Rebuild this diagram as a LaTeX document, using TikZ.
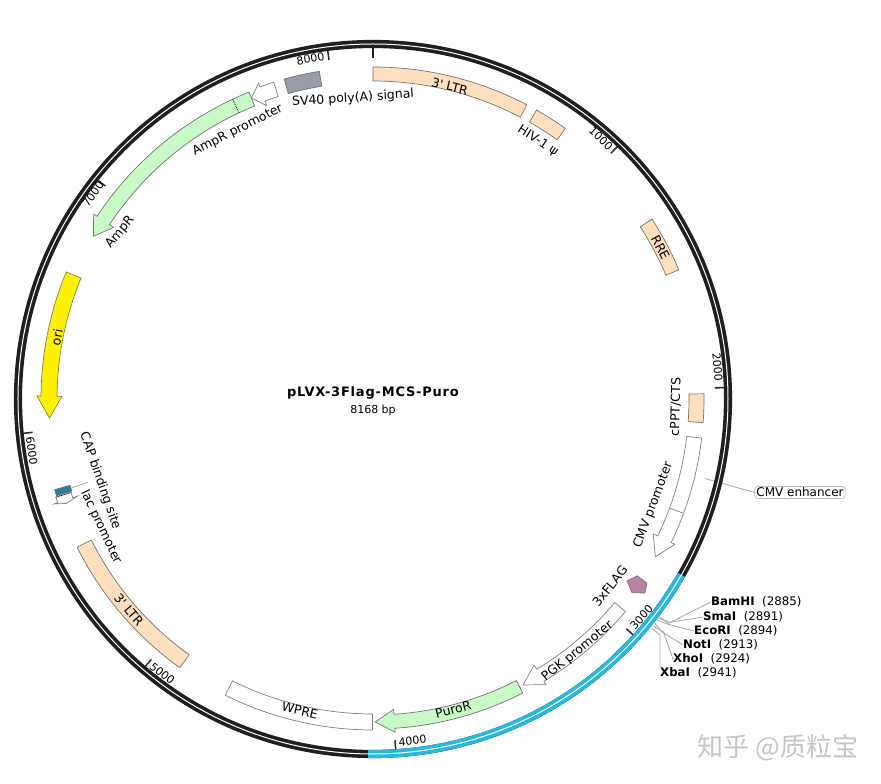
\documentclass[tikz,border=0pt]{standalone}
\usepackage{fontspec}
\setmainfont{DejaVu Sans}[Ligatures=TeXOff]
\newfontfamily\cjk{Noto Sans CJK SC}
\newfontfamily\titlefont{DejaVu Sans Bold}[LetterSpace=6]
\usetikzlibrary{positioning, calc}

\definecolor{ltrpeach}{HTML}{FFE0BE}
\definecolor{ampgreen}{HTML}{C8FAC8}
\definecolor{svgray}{HTML}{9A9CA8}
\definecolor{flagmauve}{HTML}{B983A8}
\definecolor{capteal}{HTML}{2F7D9C}
\definecolor{mcscyan}{HTML}{29B8DC}

% band along the ring: style, start, end, outer radius, inner radius
\newcommand{\featband}[5]{
	\draw[#1] ({90-#2}:#4) arc[start angle={90-#2}, end angle={90-#3}, radius=#4] -- ({90-#3}:#5) arc[start angle={90-#3}, end angle={90-#2}, radius=#5] -- cycle;
}
% band with a head: style, start, head base, tip, outer radius, inner radius
\newcommand{\featarrow}[6]{
	\draw[#1] ({90-#2}:#5) arc[start angle={90-#2}, end angle={90-#3}, radius=#5] -- ({90-#3}:#5+4) -- ({90-#4}:#5/2+#6/2) -- ({90-#3}:#6-5) -- ({90-#3}:#6) arc[start angle={90-#3}, end angle={90-#2}, radius=#6] -- cycle;
}

\begin{document}
\begin{tikzpicture}[x=1pt, y=1pt]
	% Define styles
	\tikzset{
		feat/.style={draw=black!55, line width=0.7pt, fill=#1},
		plainfeat/.style={draw=black!50, line width=0.7pt, fill=white},
		lbl/.style={inner sep=0pt, font=\fontsize{12.5}{14}\selectfont},
		ticklbl/.style={inner sep=0pt, font=\fontsize{11}{13}\selectfont},
		enzlbl/.style={inner sep=0pt, anchor=west, font=\fontsize{11.8}{13}\selectfont},
		leader/.style={draw=black!35, line width=0.8pt},
		tickmark/.style={draw=black!85, line width=1.5pt}
	}
	\useasboundingbox (-373,-385) rectangle (508,399);

	% Leader behind the ring
	\coordinate (enhIn) at (332,-79.5);
	\node[lbl, draw=black!40, rounded corners=3pt, fill=white, inner sep=1.5pt, font=\fontsize{12}{14}\selectfont] (enh) at (427,-93.5) {CMV enhancer};
	\draw[leader] (enhIn) -- (enh.west);

	% Ring
	\draw[black!88, line width=8.2pt] (0,0) circle[radius=355];
	\draw[white, line width=1pt] (0,0) circle[radius=355];
	\draw[mcscyan, line width=8.2pt] ({90-119.7}:355) arc[start angle={90-119.7}, end angle={90-180.8}, radius=355];
	\draw[white, line width=1pt] ({90-119.7}:355) arc[start angle={90-119.7}, end angle={90-180.8}, radius=355];

	% Scale
	\draw[black!88, line width=2.6pt] (90:351) -- (90:341);
	\draw[tickmark] ({90-44.07}:351) -- ({90-44.07}:342);
	\draw[tickmark] ({90-88.14}:351) -- ({90-88.14}:342);
	\draw[tickmark] ({90-132.2}:351) -- ({90-132.2}:342);
	\draw[tickmark] ({90-176.3}:351) -- ({90-176.3}:342);
	\draw[tickmark] ({90-220.4}:351) -- ({90-220.4}:342);
	\draw[tickmark] ({90-264.4}:351) -- ({90-264.4}:342);
	\draw[tickmark] ({90-308.5}:351) -- ({90-308.5}:342);
	\draw[tickmark] ({90-352.6}:351) -- ({90-352.6}:342);
	\node[ticklbl, rotate=-44] (t1) at ({90-41.2}:346) {1000};
	\node[ticklbl, rotate=-85] (t2) at ({90-84.7}:346) {2000};
	\node[ticklbl, rotate=48] (t3) at ({90-129.1}:346) {3000};
	\node[ticklbl, rotate=6] (t4) at ({90-173.4}:344) {4000};
	\node[ticklbl, rotate=-38] (t5) at ({90-217.5}:346) {5000};
	\node[ticklbl, rotate=-82] (t6) at ({90-261.4}:345) {6000};
	\node[ticklbl, rotate=54] (t7) at ({90-306.2}:347) {7000};
	\node[ticklbl, rotate=10] (t8) at ({90-349.6}:346) {8000};

	% Features
	\featband{feat=ltrpeach}{0}{27.6}{332}{318}
	\featband{feat=ltrpeach}{29.5}{35.4}{332}{318}
	\featband{feat=ltrpeach}{57.2}{67.1}{332}{318}
	\featband{feat=ltrpeach}{89.1}{94.1}{331}{316}
	\featarrow{plainfeat}{96.8}{115.7}{119.2}{331}{316}
	\draw[black!50, line width=0.7pt] ({90-110.2}:331) -- ({90-110.2}:316);
	\draw[feat=flagmauve] ({90-123.8}:318) -- ({90-123.9}:330) -- ({90-125.5}:334) -- ({90-126.8}:323.6) -- ({90-125.6}:312.5) -- cycle;
	\featarrow{plainfeat}{130.1}{148.8}{152.3}{330}{316}
	\featarrow{feat=ampgreen}{153}{176.2}{179.6}{330}{316}
	\featband{plainfeat}{180.1}{206.5}{331}{315}
	\featband{feat=ltrpeach}{215.7}{243.4}{331}{315}
	\featarrow{plainfeat}{252.8}{251.8}{251.2}{332}{316}
	\draw[black, densely dotted, line width=0.8pt] ({90-252.8}:332) -- ({90-252.8}:316);
	\featband{feat=capteal}{253}{254.1}{331}{315}
	\featarrow{draw=black!55!yellow, line width=0.7pt, fill=yellow}{292.5}{270.5}{266.6}{332}{316}
	\featarrow{feat=ampgreen}{338}{303.5}{300.2}{331}{316}
	\draw[black, densely dotted, line width=0.8pt] ({90-334.9}:331) -- ({90-334.9}:316);
	\featarrow{plainfeat}{342.6}{340.1}{338}{332}{317}
	\featband{feat=svgray}{344.5}{350.7}{332}{317}

	% Feature labels
	\node[lbl, rotate=-13.8] (ltrR) at ({90-13.8}:322) {3' LTR};
	\node[lbl, rotate=-32.6] (hiv) at ({90-32.6}:306) {HIV-1 ψ};
	\node[lbl, rotate=-62.2] (rre) at ({90-62.2}:325) {RRE};
	\node[lbl, rotate=88.5] (cppt) at ({90-91.5}:302.8) {cPPT/CTS};
	\node[lbl, rotate=69.3] (cmv) at ({90-110.7}:299.7) {CMV promoter};
	\node[lbl, rotate=51.7] (flag) at ({90-128.3}:302) {3xFLAG};
	\node[lbl, rotate=39] (pgk) at ({90-141}:325) {PGK promoter};
	\node[lbl, rotate=14.5] (puro) at ({90-165.5}:320.5) {PuroR};
	\node[lbl, rotate=-13.2] (wpre) at ({90-193.2}:320) {WPRE};
	\node[lbl, rotate=-49.2] (ltrL) at ({90-229.2}:322.6) {3' LTR};
	\node[lbl, rotate=-64.8] (lac) at ({90-244.8}:300.6) {lac promoter};
	\node[lbl, rotate=-71] (cap) at ({90-253.3}:285) {CAP binding site};
	\node[lbl, rotate=79] (ori) at ({90-281}:322) {ori};
	\node[lbl, rotate=50] (amp) at ({90-303.4}:303) {AmpR};
	\node[lbl, rotate=26.7] (ampP) at ({90-333.3}:301) {AmpR promoter};
	\node[lbl, rotate=3.8] (sv) at ({90-356.2}:301.4) {SV40 poly(A) signal};

	% CAP leader
	\coordinate (capA) at (-301.3,-88.7);
	\coordinate (capB) at (-284.7,-83.3);
	\draw[leader] (capA) -- (capB);

	% Centre
	\node[inner sep=0pt, font=\titlefont\fontsize{13}{15}\selectfont] (title) at (0,6) {pLVX-3Flag-MCS-Puro};
	\node[inner sep=0pt, font=\fontsize{11}{12}\selectfont, below=5pt of title] (size) {8168 bp};

	% Enzymes
	\node[enzlbl] (bam) at (338,-203) {\textbf{BamHI}\ \ (2885)};
	\node[enzlbl] (sma) at (330,-218) {\textbf{SmaI}\ \ (2891)};
	\node[enzlbl] (eco) at (321,-232) {\textbf{EcoRI}\ \ (2894)};
	\node[enzlbl] (not) at (310,-246) {\textbf{NotI}\ \ (2913)};
	\node[enzlbl] (xho) at (300,-260) {\textbf{XhoI}\ \ (2924)};
	\node[enzlbl] (xba) at (287,-274) {\textbf{XbaI}\ \ (2941)};
	\coordinate (bamK) at (295.3,-224.3);
	\coordinate (smaK) at (297,-223.3);
	\coordinate (ecoK) at (295.3,-225.3);
	\coordinate (notK) at (288.7,-232.7);
	\coordinate (xhoK) at (290.3,-232.7);
	\coordinate (xbaK) at (287,-236);
	\coordinate (bamR) at (286.3,-217.7);
	\coordinate (smaR) at (285.3,-219.3);
	\coordinate (ecoR) at (283.7,-221);
	\coordinate (notR) at (282,-224.3);
	\coordinate (xhoR) at (280.3,-227);
	\coordinate (xbaR) at (278.7,-229.3);
	\draw[leader] (bam.west) -- (bamK) -- (bamR);
	\draw[leader] (sma.west) -- (smaK) -- (smaR);
	\draw[leader] (eco.west) -- (ecoK) -- (ecoR);
	\draw[leader] (not.west) -- (notK) -- (notR);
	\draw[leader] (xho.west) -- (xhoK) -- (xhoR);
	\draw[leader] (xba.north west) -- (xbaK) -- (xbaR);

	% Watermark
	\node[inner sep=0pt, text=black!23, font=\cjk\fontsize{26}{28}\selectfont] (mark) at (405,-349) {知乎 @质粒宝};

\end{tikzpicture}
\end{document}
